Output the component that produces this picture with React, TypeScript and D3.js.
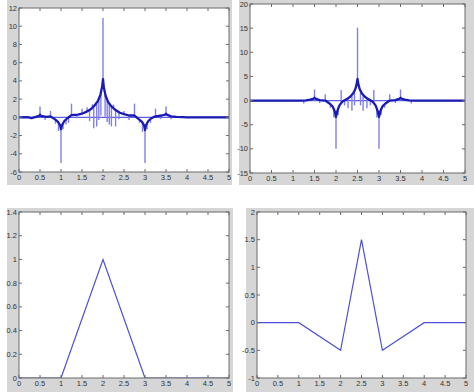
import React from "react";
import * as d3 from "d3";

// ---------- data ----------
const xTicks = [0, 0.5, 1, 1.5, 2, 2.5, 3, 3.5, 4, 4.5, 5];
const p1YTicks = [-6, -4, -2, 0, 2, 4, 6, 8, 10, 12];
const p2YTicks = [-15, -10, -5, 0, 5, 10, 15, 20];
const p3YTicks = [0, 0.2, 0.4, 0.6, 0.8, 1, 1.2, 1.4];
const p4YTicks = [-1, -0.5, 0, 0.5, 1, 1.5, 2];

// panel 1 dark envelope [x, y]
const p1Envelope: [number, number][] = [
  [0, 0], [0.2, 0.02], [0.3, -0.08], [0.4, 0.05], [0.48, 0.15], [0.5, 0.3], [0.52, 0.15],
  [0.65, 0.05], [0.75, 0.1], [0.85, -0.2], [0.93, -0.5], [0.98, -0.9], [1.0, -1.3],
  [1.02, -0.9], [1.08, -0.4], [1.15, -0.1], [1.25, 0.25], [1.4, 0.3], [1.5, 0.4],
  [1.6, 0.6], [1.7, 0.85], [1.8, 1.3], [1.88, 1.8], [1.94, 2.5], [1.98, 3.4], [2.0, 4.2],
  [2.02, 3.3], [2.06, 2.4], [2.12, 1.7], [2.2, 1.2], [2.3, 0.8], [2.4, 0.5], [2.5, 0.35],
  [2.62, 0.2], [2.75, 0.2], [2.85, -0.2], [2.93, -0.5], [2.98, -0.9], [3.0, -1.4],
  [3.02, -0.9], [3.08, -0.4], [3.15, -0.1], [3.25, 0.1], [3.4, 0.2], [3.48, 0.3], [3.5, 0.4],
  [3.52, 0.3], [3.62, 0.1], [3.75, 0.05], [3.9, 0.02], [4.0, 0], [5.0, 0],
];
// panel 1 spikes [x, from, to]
const p1Spikes: [number, number, number][] = [
  [0.5, 0.2, 1.2], [0.62, 0.05, -0.3], [0.75, 0.05, 0.7], [0.87, -0.2, -0.7],
  [0.94, -0.5, -1.5], [1.0, -1.0, -5.0], [1.05, -0.6, -1.3], [1.12, -0.2, -0.8],
  [1.18, 0.0, -0.6], [1.25, 0.2, 1.5], [1.37, 0.3, -0.1], [1.5, 0.4, 0.95],
  [1.62, 0.6, 1.1], [1.68, 0.8, -0.4], [1.75, 0.9, 1.45], [1.78, 1.1, -1.2],
  [1.85, 1.5, -1.0], [1.9, 2.0, -0.3], [1.95, 2.6, 0.2], [2.0, 4.0, 10.9],
  [2.05, 2.4, 0.1], [2.1, 1.8, -0.5], [2.15, 1.5, -0.8], [2.2, 1.2, -1.0],
  [2.25, 1.0, 1.4], [2.3, 0.8, -1.0], [2.38, 0.6, -0.2], [2.5, 0.35, 0.7],
  [2.62, 0.2, -0.3], [2.75, 0.2, 1.5], [2.87, -0.2, -0.6], [2.94, -0.6, -1.6],
  [3.0, -1.2, -5.0], [3.05, -0.6, -1.3], [3.13, -0.1, -0.6], [3.25, 0.1, 0.95],
  [3.37, 0.2, -0.2], [3.5, 0.3, 1.2], [3.62, 0.1, -0.2],
];

// panel 2 dark envelope
const p2Envelope: [number, number][] = [
  [0, 0], [1.2, 0], [1.3, 0.05], [1.4, 0.2], [1.48, 0.4], [1.5, 0.6], [1.52, 0.4],
  [1.62, 0.1], [1.75, 0.0], [1.85, -0.6], [1.92, -1.2], [1.97, -2.2], [2.0, -3.4],
  [2.03, -2.2], [2.08, -1.0], [2.15, -0.2], [2.25, 0.3], [2.33, 0.8], [2.4, 1.5],
  [2.45, 2.4], [2.48, 3.4], [2.5, 4.5], [2.52, 3.4], [2.55, 2.4], [2.6, 1.5],
  [2.67, 0.8], [2.75, 0.3], [2.85, -0.2], [2.92, -1.0], [2.97, -2.2], [3.0, -3.4],
  [3.03, -2.2], [3.08, -1.2], [3.15, -0.6], [3.25, 0.0], [3.38, 0.1], [3.48, 0.4],
  [3.5, 0.6], [3.52, 0.4], [3.6, 0.2], [3.7, 0.05], [3.8, 0], [5.0, 0],
];
const p2Spikes: [number, number, number][] = [
  [1.25, 0.0, -0.6], [1.5, 0.5, 2.3], [1.62, 0.1, -0.5], [1.75, 0.0, 1.3],
  [1.87, -0.6, -1.5], [1.95, -1.6, -3.5], [2.0, -3.0, -10.0], [2.05, -1.5, -3.0],
  [2.12, -0.3, 2.2], [2.2, 0.1, -1.0], [2.28, 0.6, -1.6], [2.37, 1.0, -2.1],
  [2.43, 2.0, -1.0], [2.5, 4.4, 15.1], [2.57, 2.0, -1.0], [2.63, 1.0, -2.1],
  [2.72, 0.6, -1.6], [2.8, 0.1, -1.0], [2.88, -0.3, 2.2], [2.95, -1.6, -3.5],
  [3.0, -3.0, -10.0], [3.05, -1.5, -3.0], [3.13, -0.6, -1.5], [3.25, 0.0, 1.3],
  [3.38, 0.1, -0.5], [3.5, 0.5, 2.3], [3.75, 0.0, -0.6],
];

// panel 3 triangle
const p3Line: [number, number][] = [[0, 0], [1, 0], [2, 1], [3, 0], [5, 0]];
// panel 4 wavelet-like shape
const p4Line: [number, number][] = [[0, 0], [1, 0], [2, -0.5], [2.5, 1.5], [3, -0.5], [4, 0], [5, 0]];

// ---------- layout ----------
type Box = { l: number; r: number; t: number; b: number };
const FONT = "'Liberation Sans', Arial, sans-serif";

function fmt(v: number) {
  return String(+v.toFixed(2));
}

function Panel(props: {
  bg: Box;
  ax: Box;
  yDomain: [number, number];
  yTicks: number[];
  children: (x: d3.ScaleLinear<number, number>, y: d3.ScaleLinear<number, number>) => React.ReactNode;
}) {
  const { bg, ax, yDomain, yTicks } = props;
  const x = d3.scaleLinear().domain([0, 5]).range([ax.l, ax.r]);
  const y = d3.scaleLinear().domain(yDomain).range([ax.b, ax.t]);
  const tl = 3;
  const clipId = `clip-${ax.l}-${ax.t}`;
  return (
    <g>
      <rect x={bg.l} y={bg.t} width={bg.r - bg.l} height={bg.b - bg.t} fill="#d6d6d6" />
      <rect x={ax.l} y={ax.t} width={ax.r - ax.l} height={ax.b - ax.t} fill="#ffffff" />
      <clipPath id={clipId}>
        <rect x={ax.l} y={ax.t} width={ax.r - ax.l} height={ax.b - ax.t} />
      </clipPath>
      <g clipPath={`url(#${clipId})`}>{props.children(x, y)}</g>
      <rect x={ax.l} y={ax.t} width={ax.r - ax.l} height={ax.b - ax.t} fill="none" stroke="#6a6a6a" strokeWidth={1} />
      {xTicks.map((v) => (
        <g key={"x" + v}>
          <line x1={x(v)} x2={x(v)} y1={ax.b} y2={ax.b - tl} stroke="#6a6a6a" />
          <line x1={x(v)} x2={x(v)} y1={ax.t} y2={ax.t + tl} stroke="#6a6a6a" />
          <text x={x(v)} y={ax.b + 8} fontSize={7.5} fontFamily={FONT} fill="#333" textAnchor="middle">
            {fmt(v)}
          </text>
        </g>
      ))}
      {yTicks.map((v) => (
        <g key={"y" + v}>
          <line x1={ax.l} x2={ax.l + tl} y1={y(v)} y2={y(v)} stroke="#6a6a6a" />
          <line x1={ax.r} x2={ax.r - tl} y1={y(v)} y2={y(v)} stroke="#6a6a6a" />
          <text x={ax.l - 2} y={y(v) + 2.5} fontSize={7.5} fontFamily={FONT} fill="#333" textAnchor="end">
            {fmt(v)}
          </text>
        </g>
      ))}
    </g>
  );
}

function Noisy(props: {
  x: d3.ScaleLinear<number, number>;
  y: d3.ScaleLinear<number, number>;
  env: [number, number][];
  spikes: [number, number, number][];
}) {
  const { x, y, env, spikes } = props;
  const line = d3
    .line<[number, number]>()
    .x((d) => x(d[0]))
    .y((d) => y(d[1]));
  return (
    <g>
      <line x1={x(0)} x2={x(5)} y1={y(0)} y2={y(0)} stroke="#5f5fe8" strokeWidth={1.2} />
      {spikes.map((s, i) => (
        <line key={i} x1={x(s[0])} x2={x(s[0])} y1={y(s[1])} y2={y(s[2])} stroke="#8080ea" strokeWidth={1.4} />
      ))}
      <path d={line(env) || ""} fill="none" stroke="#1a1ab4" strokeWidth={2.3} strokeLinejoin="round" />
    </g>
  );
}

export default function App() {
  const simple = (pts: [number, number][]) => (x: d3.ScaleLinear<number, number>, y: d3.ScaleLinear<number, number>) => {
    const line = d3
      .line<[number, number]>()
      .x((d) => x(d[0]))
      .y((d) => y(d[1]));
    return <path d={line(pts) || ""} fill="none" stroke="#4f4fd8" strokeWidth={1.2} />;
  };
  return (
    <svg
      width={474}
      height={392}
      style={{ position: "absolute", left: 0, top: 0, background: "#fff" }}
    >
      <Panel
        bg={{ l: 7, r: 232, t: 0, b: 185 }}
        ax={{ l: 19, r: 229, t: 8, b: 172 }}
        yDomain={[-6, 12]}
        yTicks={p1YTicks}
      >
        {(x, y) => <Noisy x={x} y={y} env={p1Envelope} spikes={p1Spikes} />}
      </Panel>
      <Panel
        bg={{ l: 239, r: 474, t: 0, b: 185 }}
        ax={{ l: 250, r: 465, t: 4, b: 173 }}
        yDomain={[-15, 20]}
        yTicks={p2YTicks}
      >
        {(x, y) => <Noisy x={x} y={y} env={p2Envelope} spikes={p2Spikes} />}
      </Panel>
      <Panel
        bg={{ l: 7, r: 233, t: 208, b: 392 }}
        ax={{ l: 19, r: 229, t: 212, b: 378 }}
        yDomain={[0, 1.4]}
        yTicks={p3YTicks}
      >
        {simple(p3Line)}
      </Panel>
      <Panel
        bg={{ l: 246, r: 474, t: 208, b: 392 }}
        ax={{ l: 257, r: 466, t: 212, b: 378 }}
        yDomain={[-1, 2]}
        yTicks={p4YTicks}
      >
        {simple(p4Line)}
      </Panel>
    </svg>
  );
}
